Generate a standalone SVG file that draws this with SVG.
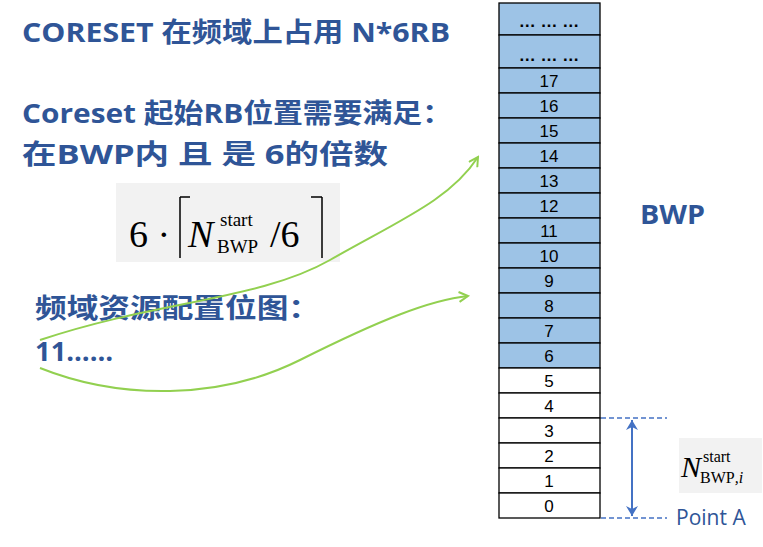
<svg xmlns="http://www.w3.org/2000/svg" width="763" height="547" viewBox="0 0 763 547">
<style>
.t{font-family:"Open Sans","Noto Sans CJK SC",sans-serif;font-weight:bold;fill:#2F5597;font-size:27px}
.c{fill:#9DC3E6;stroke:#000;stroke-width:1.3}
.w{fill:#fff;stroke:#000;stroke-width:1.3}
.n{font-family:"Liberation Sans",sans-serif;font-size:17px;text-anchor:middle;fill:#000}
.m{font-family:"Liberation Serif",serif;fill:#000}
.g{fill:none;stroke:#92D050;stroke-width:2}
.d{stroke:#4472C4;stroke-width:1.5;stroke-dasharray:5,3}
.e{font-family:"Liberation Sans",sans-serif;font-weight:bold;font-size:17px;text-anchor:middle}
</style>
<defs>
<marker id="ga" markerWidth="12" markerHeight="12" refX="10" refY="6" orient="auto" markerUnits="userSpaceOnUse"><path d="M1,1 L10,6 L1,11" fill="none" stroke="#92D050" stroke-width="2"/></marker>
<marker id="ba" markerWidth="14" markerHeight="14" refX="12" refY="7" orient="auto" markerUnits="userSpaceOnUse"><path d="M2,1 L12,7 L2,13 L5,7Z" fill="#4472C4"/></marker>
</defs>
<rect width="763" height="547" fill="#fff"/>
<g id="texts">
<text class="t" x="22" y="42" textLength="428" lengthAdjust="spacingAndGlyphs">CORESET 在频域上占用 N*6RB</text>
<text class="t" x="22" y="123" textLength="430" lengthAdjust="spacingAndGlyphs">Coreset 起始RB位置需要满足：</text>
<text class="t" x="22" y="164" textLength="366" lengthAdjust="spacingAndGlyphs">在BWP内 且 是 6的倍数</text>
<text class="t" x="35" y="318" textLength="285" lengthAdjust="spacingAndGlyphs">频域资源配置位图：</text>
<text class="t" x="35" y="361" textLength="78" lengthAdjust="spacingAndGlyphs">11……</text>
<text class="t" x="640" y="224" textLength="65" lengthAdjust="spacingAndGlyphs">BWP</text>
<text x="676" y="525" font-family="Open Sans,sans-serif" font-size="21" fill="#2F5597">Point A</text>
</g>
<g id="formula1">
<rect x="116" y="183" width="224" height="79" fill="#f2f2f2"/>
<text class="m" x="129" y="247" font-size="38">6 ·</text>
<path d="M180,197 V258 M180,197 H190" stroke="#000" stroke-width="1.5" fill="none"/>
<text class="m" x="188" y="247" font-size="38" font-style="italic">N</text>
<text class="m" x="220" y="226" font-size="19">start</text>
<text class="m" x="217" y="253" font-size="19">BWP</text>
<text class="m" x="270" y="247" font-size="38">/6</text>
<path d="M322,197 V258 M322,197 H311" stroke="#000" stroke-width="1.5" fill="none"/>
</g>
<g id="formula2">
<rect x="679" y="438" width="83" height="55" fill="#f2f2f2"/>
<text class="m" x="681" y="477" font-size="30" font-style="italic">N</text>
<text class="m" x="703" y="462" font-size="16">start</text>
<text class="m" x="700" y="483" font-size="16">BWP<tspan font-style="italic">,i</tspan></text>
</g>
<g id="bwp">
<rect class="c" x="499" y="3" width="101" height="32"/>
<text class="e" x="549" y="27">… … …</text>
<rect class="c" x="499" y="35" width="101" height="33"/>
<text class="e" x="549" y="61">… … …</text>
<rect class="c" x="499" y="68" width="101" height="25"/><text class="n" x="549" y="87">17</text>
<rect class="c" x="499" y="93" width="101" height="25"/><text class="n" x="549" y="112">16</text>
<rect class="c" x="499" y="118" width="101" height="25"/><text class="n" x="549" y="137">15</text>
<rect class="c" x="499" y="143" width="101" height="25"/><text class="n" x="549" y="162">14</text>
<rect class="c" x="499" y="168" width="101" height="25"/><text class="n" x="549" y="187">13</text>
<rect class="c" x="499" y="193" width="101" height="25"/><text class="n" x="549" y="212">12</text>
<rect class="c" x="499" y="218" width="101" height="25"/><text class="n" x="549" y="237">11</text>
<rect class="c" x="499" y="243" width="101" height="25"/><text class="n" x="549" y="262">10</text>
<rect class="c" x="499" y="268" width="101" height="25"/><text class="n" x="549" y="287">9</text>
<rect class="c" x="499" y="293" width="101" height="25"/><text class="n" x="549" y="312">8</text>
<rect class="c" x="499" y="318" width="101" height="25"/><text class="n" x="549" y="337">7</text>
<rect class="c" x="499" y="343" width="101" height="25"/><text class="n" x="549" y="362">6</text>
<rect class="w" x="499" y="368" width="101" height="25"/><text class="n" x="549" y="387">5</text>
<rect class="w" x="499" y="393" width="101" height="25"/><text class="n" x="549" y="412">4</text>
<rect class="w" x="499" y="418" width="101" height="25"/><text class="n" x="549" y="437">3</text>
<rect class="w" x="499" y="443" width="101" height="25"/><text class="n" x="549" y="462">2</text>
<rect class="w" x="499" y="468" width="101" height="25"/><text class="n" x="549" y="487">1</text>
<rect class="w" x="499" y="493" width="101" height="25"/><text class="n" x="549" y="512">0</text>
</g>
<g id="connectors">
<path class="g" d="M40,340 C160,300 260,300 330,260 C400,220 450,200 478,157" marker-end="url(#ga)"/>
<path class="g" d="M40,368 C120,400 220,400 300,360 C380,320 430,300 468,296" marker-end="url(#ga)"/>
<line class="d" x1="601" y1="418" x2="667" y2="418"/>
<line class="d" x1="601" y1="518" x2="667" y2="518"/>
<line x1="632" y1="516" x2="632" y2="420" stroke="#4472C4" stroke-width="2" marker-end="url(#ba)"/>
<line x1="632" y1="420" x2="632" y2="516" stroke="#4472C4" stroke-width="2" marker-end="url(#ba)"/>
</g>
</svg>
